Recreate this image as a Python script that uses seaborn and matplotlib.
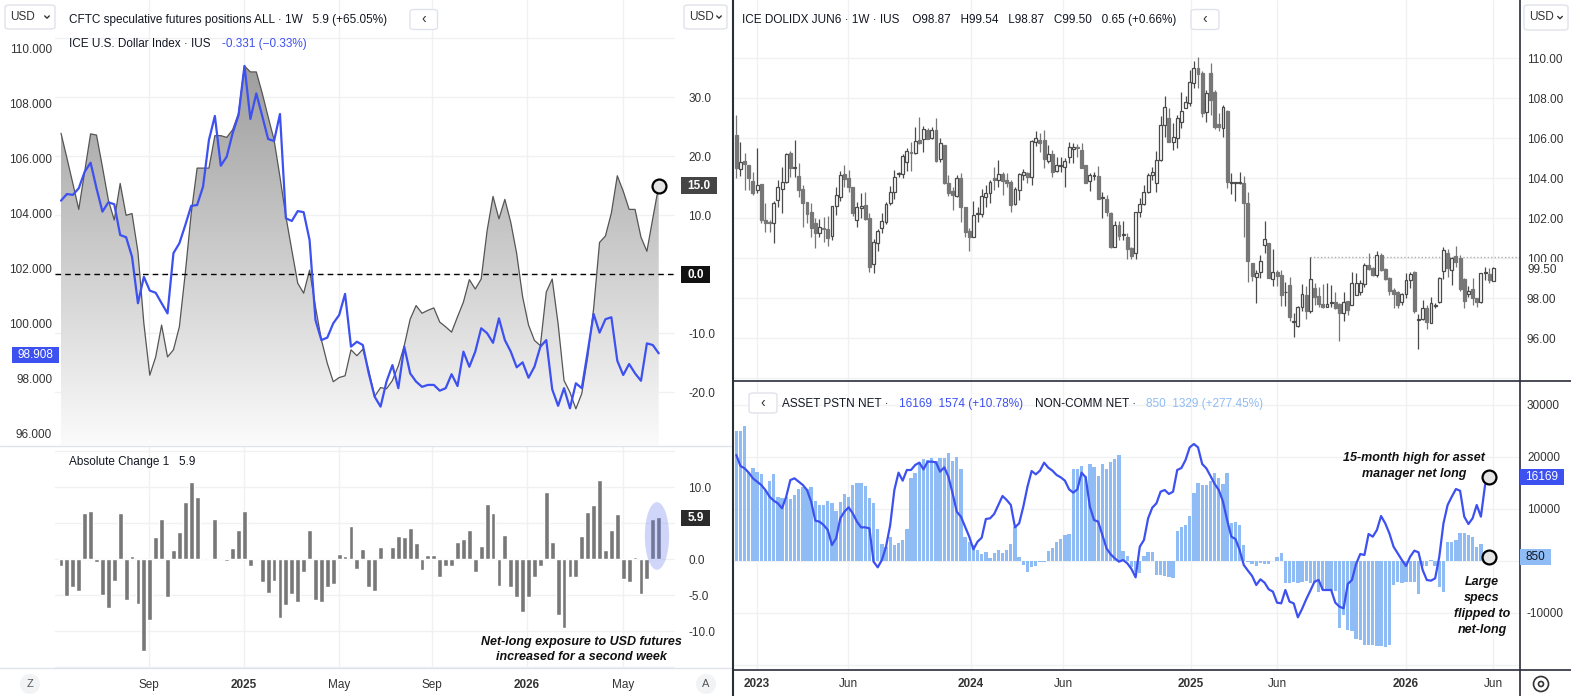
import numpy as np
import matplotlib
matplotlib.use("Agg")
import matplotlib.pyplot as plt
import seaborn as sns
from matplotlib.patches import Polygon, Ellipse, FancyBboxPatch, Rectangle
from matplotlib.colors import LinearSegmentedColormap
from matplotlib.lines import Line2D

# ---------------- left panel: CFTC speculative net (k contracts) and ICE dollar index, weekly
cftc_net = [
    23.9, 19.7, 15.4, 11.0, 17.4, 23.8, 23.6, 18.2, 12.6, 9.2,
    15.4, 10.0, 10.3, 3.8, -8.3, -17.1, -14.0, -8.6, -14.0, -12.8,
    -8.9, 0.2, 10.3, 18.0, 18.0, 18.0, 23.5, 23.5, 23.2, 24.5,
    27.3, 35.3, 34.3, 34.3, 30.7, 26.7, 22.8, 16.5, 9.8, 4.1,
    -1.5, -3.2, 0.7, -5.5, -11.1, -15.1, -18.2, -17.5, -17.2, -12.8,
    -13.8, -12.7, -16.3, -20.7, -19.2, -19.4, -18.0, -15.5, -12.1, -7.6,
    -5.3, -6.6, -6.1, -5.7, -8.1, -8.9, -9.8, -7.2, -4.7, -0.9,
    -2.5, -0.8, 7.4, 13.2, 9.4, 12.7, 8.8, 3.5, -3.8, -8.6,
    -11.2, -12.1, -3.0, -0.8, -8.4, -18.0, -20.0, -22.8, -20.2, -14.0,
    -5.8, 5.4, 6.5, 10.4, 16.7, 14.1, 11.0, 11.0, 6.3, 3.9,
    9.5, 15.0,
]
usd_index = [
    104.46, 104.70, 104.67, 104.91, 105.51, 105.84, 104.91, 104.06, 104.40, 104.33,
    103.21, 103.13, 102.42, 100.73, 101.69, 101.19, 101.11, 100.73, 100.36, 102.55,
    102.91, 103.57, 104.27, 104.30, 104.97, 106.67, 107.54, 105.73, 106.06, 106.91,
    107.57, 109.36, 107.43, 108.36, 107.54, 106.70, 106.63, 107.61, 103.82, 103.72,
    104.08, 104.04, 103.03, 100.12, 99.39, 99.48, 100.00, 100.30, 101.07, 99.15,
    99.33, 99.21, 98.18, 97.33, 96.97, 97.88, 98.48, 97.64, 99.15, 98.18,
    97.88, 97.69, 97.76, 97.76, 97.55, 97.64, 98.15, 97.72, 98.97, 98.42,
    98.97, 99.82, 99.64, 99.29, 100.18, 99.39, 98.97, 98.40, 98.58, 98.02,
    98.42, 99.15, 99.39, 97.60, 97.00, 97.64, 96.91, 97.82, 97.64, 98.97,
    100.34, 99.66, 100.15, 100.22, 98.64, 98.12, 98.52, 98.18, 97.91, 99.27,
    99.21, 98.908,
]
weekly_change = [
    -1.0, -5.1, -3.8, -4.35, 6.4, 6.7, -0.4, -4.9, -6.7, -3.0,
    6.4, -5.6, 0.5, -6.2, -12.8, -8.4, 3.1, 5.6, -5.3, 1.3,
    3.8, 8.0, 10.7, 8.7, 0.05, 0.2, 5.6, 0.05, -0.3, 1.6,
    4.1, 6.7, -0.9, 0.2, -3.1, -4.7, -3.0, -8.1, -6.3, -4.8,
    -5.9, -1.7, 4.1, -5.7, -5.9, -3.8, -3.5, 0.75, 0.45, 4.6,
    -1.3, 1.45, -3.8, -4.35, 1.7, 0.15, 1.7, 3.2, 3.1, 4.35,
    2.3, -1.45, 0.6, 0.6, -2.5, -0.9, -0.9, 2.4, 2.8, 4.1,
    -1.7, 1.85, 7.7, 6.4, -3.65, 3.4, -3.9, -5.3, -7.3, -5.2,
    -2.5, -0.9, 9.35, 2.4, -7.8, -9.5, -2.5, -2.4, 3.2, 6.6,
    7.5, 11.0, 1.3, 4.1, 6.3, -2.8, -3.1, 0.3, -4.8, -2.7,
    5.6, 5.9,
]
left_tick_pos = [14.87, 30.92, 46.98, 62.69, 78.74, 94.97]
left_tick_labels = ["Sep", "2025", "May", "Sep", "2026", "May"]

# ---------------- right panel: ICE DOLIDX weekly candles + COT positioning
dx_open = [
    106.17, 104.45, 104.87, 104.67, 103.87, 103.42, 103.72, 101.92, 101.78, 101.75,
    102.90, 103.45, 103.83, 105.25, 104.50, 104.10, 103.45, 102.80, 102.30, 101.75,
    101.28, 101.50, 101.45, 101.10, 102.60, 103.05, 104.22, 104.03, 103.58, 101.92,
    102.53, 102.67, 102.00, 99.70, 100.75, 101.50, 101.83, 102.75, 103.30, 104.22,
    104.20, 104.83, 105.30, 105.28, 105.92, 105.97, 106.42, 106.00, 106.42, 104.95,
    105.67, 103.75, 103.37, 103.12, 104.00, 102.55, 101.38, 101.08, 102.20, 102.20,
    103.05, 103.28, 104.00, 103.92, 104.20, 103.92, 103.82, 102.72, 103.42, 104.17,
    104.25, 104.08, 105.83, 105.92, 105.92, 104.88, 105.20, 104.38, 104.63, 104.58,
    105.05, 105.45, 105.55, 105.42, 104.67, 103.88, 104.12, 104.12, 103.00, 102.97,
    102.28, 100.58, 101.67, 101.17, 101.08, 100.50, 100.25, 102.33, 102.70, 103.33,
    104.17, 103.78, 104.92, 106.67, 107.00, 105.83, 106.00, 106.83, 107.53, 107.78,
    108.78, 109.50, 109.28, 107.33, 109.28, 108.30, 106.72, 106.50, 107.37, 103.75,
    103.75, 103.78, 103.75, 102.75, 99.75, 99.05, 99.33, 100.67, 100.75, 98.95,
    99.30, 99.15, 98.30, 98.67, 96.83, 96.62, 97.58, 98.17, 97.38, 98.50,
    98.12, 97.70, 97.58, 97.75, 97.83, 97.70, 97.28, 97.88, 97.67, 98.17,
    98.33, 98.72, 99.67, 99.50, 99.17, 100.17, 99.45, 99.00, 98.42, 98.30,
    97.80, 98.22, 98.92, 99.30, 96.92, 96.95, 97.50, 96.78, 97.63, 97.83,
    99.38, 100.28, 99.42, 100.12, 100.00, 98.97, 98.22, 98.45, 98.00, 97.83,
    99.25, 99.20, 98.87,
]
dx_high = [
    107.17, 105.80, 105.28, 104.67, 104.33, 105.50, 103.72, 102.75, 101.92, 102.87,
    103.92, 104.58, 105.28, 105.37, 105.92, 104.75, 103.67, 102.83, 102.75, 102.00,
    101.97, 102.05, 102.13, 102.63, 103.58, 104.38, 104.67, 104.42, 103.58, 102.80,
    103.25, 103.30, 102.25, 100.95, 101.45, 102.25, 102.83, 103.63, 104.42, 104.33,
    105.20, 105.50, 105.83, 106.55, 107.05, 106.62, 106.53, 106.55, 107.00, 106.00,
    105.67, 104.17, 103.58, 104.17, 104.28, 102.58, 101.50, 102.87, 102.58, 103.45,
    103.67, 103.92, 104.55, 104.92, 104.33, 104.25, 103.92, 103.58, 104.28, 104.45,
    104.33, 105.92, 106.38, 106.25, 106.42, 105.67, 105.42, 105.08, 105.08, 105.00,
    105.83, 105.78, 105.72, 105.75, 104.67, 104.28, 104.33, 104.62, 103.33, 103.17,
    102.33, 101.87, 101.87, 101.87, 101.25, 100.55, 102.33, 103.03, 103.67, 104.25,
    104.58, 105.37, 107.12, 108.12, 107.50, 106.75, 107.17, 108.33, 108.12, 109.42,
    109.88, 110.05, 109.37, 108.42, 109.75, 108.42, 107.28, 107.67, 107.42, 104.25,
    103.83, 104.33, 104.12, 103.33, 99.75, 99.42, 100.17, 101.87, 100.78, 100.45,
    99.42, 99.42, 98.83, 99.05, 97.25, 97.62, 98.72, 98.62, 100.05, 98.78,
    98.55, 98.72, 98.75, 98.67, 98.33, 97.75, 98.30, 97.88, 99.33, 99.25,
    98.92, 99.75, 100.28, 99.58, 100.38, 100.25, 99.53, 99.05, 98.50, 98.38,
    98.28, 99.25, 99.30, 99.37, 97.22, 97.92, 97.67, 98.05, 97.78, 99.05,
    100.58, 100.45, 100.08, 100.62, 100.17, 99.00, 98.62, 99.00, 98.00, 99.28,
    99.58, 99.50, 99.54,
]
dx_low = [
    104.00, 104.13, 103.42, 103.42, 103.17, 103.28, 101.78, 101.33, 101.33, 100.75,
    102.58, 102.28, 103.75, 104.08, 104.08, 103.08, 101.58, 101.75, 101.08, 100.50,
    101.08, 100.83, 100.62, 100.92, 102.15, 102.88, 103.58, 103.33, 102.12, 101.58,
    102.00, 101.92, 99.33, 99.28, 100.38, 101.28, 101.72, 102.67, 102.95, 104.08,
    104.03, 104.38, 104.38, 105.22, 105.72, 105.33, 105.97, 105.95, 104.83, 104.83,
    103.72, 103.12, 102.42, 103.08, 101.83, 101.08, 100.38, 101.08, 101.83, 102.08,
    102.55, 102.78, 103.42, 103.58, 103.17, 103.55, 102.33, 102.65, 102.92, 103.92,
    103.75, 103.67, 105.62, 105.33, 104.50, 104.78, 104.05, 104.33, 104.33, 103.55,
    104.78, 104.78, 105.08, 104.50, 103.75, 103.38, 103.92, 102.97, 102.03, 102.12,
    100.50, 100.55, 100.92, 100.92, 99.95, 99.95, 99.95, 102.08, 102.67, 103.28,
    103.90, 103.33, 104.88, 106.08, 105.83, 105.42, 105.50, 106.50, 107.50, 107.62,
    108.50, 108.50, 107.08, 106.83, 107.17, 106.45, 106.38, 106.08, 103.50, 103.22,
    102.88, 103.72, 101.05, 98.83, 98.88, 97.75, 99.00, 100.25, 99.00, 98.62,
    98.62, 97.63, 97.63, 96.88, 96.05, 96.55, 97.38, 96.95, 97.25, 97.67,
    97.55, 97.50, 97.55, 97.58, 97.45, 95.88, 96.88, 97.17, 97.67, 98.17,
    98.17, 98.55, 99.42, 99.12, 99.08, 99.38, 98.92, 98.17, 97.53, 97.50,
    97.67, 98.00, 98.50, 97.28, 95.45, 96.92, 96.45, 96.75, 97.50, 97.75,
    98.95, 99.05, 98.67, 99.55, 98.38, 97.50, 98.05, 97.67, 97.58, 97.78,
    98.92, 98.75, 98.87,
]
dx_close = [
    104.50, 104.80, 104.70, 104.03, 103.28, 103.67, 101.92, 101.78, 101.75, 102.75,
    103.58, 103.80, 105.22, 104.50, 104.55, 103.40, 102.78, 102.20, 101.53, 101.25,
    101.55, 101.45, 101.03, 102.60, 103.17, 104.17, 103.95, 103.55, 102.28, 102.55,
    102.62, 101.95, 99.58, 100.83, 101.38, 101.87, 102.72, 103.30, 104.05, 104.25,
    105.12, 105.37, 105.28, 105.87, 105.75, 106.45, 105.97, 106.42, 104.88, 105.75,
    103.75, 103.28, 103.17, 104.00, 102.55, 101.33, 101.05, 102.17, 102.22, 103.12,
    103.28, 103.83, 103.92, 104.20, 103.88, 103.75, 102.67, 103.47, 104.20, 104.30,
    104.08, 105.87, 106.00, 105.78, 104.95, 105.20, 104.33, 104.65, 104.63, 104.87,
    105.55, 105.58, 105.53, 104.53, 103.78, 104.17, 104.12, 102.97, 103.00, 102.30,
    100.55, 101.67, 101.12, 101.17, 100.45, 100.12, 102.30, 102.72, 103.33, 104.17,
    104.33, 104.92, 106.67, 107.58, 105.83, 106.05, 107.00, 107.37, 107.83, 108.80,
    109.50, 109.20, 107.25, 108.25, 107.92, 106.55, 106.55, 107.58, 103.83, 103.75,
    103.75, 103.78, 102.78, 99.88, 99.12, 99.25, 99.87, 100.95, 99.00, 99.30,
    99.13, 98.17, 98.30, 97.05, 96.83, 97.58, 98.20, 97.38, 98.95, 98.05,
    97.72, 97.55, 97.72, 97.75, 97.50, 97.28, 97.83, 97.42, 98.75, 98.78,
    98.75, 99.67, 99.45, 99.17, 100.17, 99.42, 98.97, 98.38, 98.22, 97.67,
    98.22, 98.92, 99.20, 97.38, 96.92, 97.50, 96.83, 97.75, 97.63, 99.00,
    100.42, 99.50, 100.00, 99.83, 98.45, 97.88, 98.38, 98.00, 97.80, 99.25,
    99.25, 98.92, 99.50,
]
asset_net = [
    20384, 18269, 17820, 16987, 15897, 15256, 14615, 13653, 12371, 11602,
    11089, 10128, 12371, 15576, 15897, 15256, 14615, 13653, 11410, 7756,
    7564, 6923, 5961, 3077, 4359, 8205, 9487, 10320, 9166, 7564,
    6474, 6474, 6282, -128, -1218, 192, 2756, 6923, 13653, 16987,
    15448, 17499, 17499, 18461, 18910, 17628, 19102, 19102, 18974, 17179,
    18012, 16217, 13012, 9487, 8525, 6602, 4679, 2244, 3718, 4487,
    8077, 8205, 9038, 10769, 12500, 11730, 10769, 6474, 7243, 10448,
    14294, 17307, 16666, 17371, 18910, 17948, 17371, 16538, 16089, 15448,
    13782, 13141, 13782, 16987, 16089, 10448, 7884, 7564, 5000, 2436,
    1282, 513, -128, 192, -449, -1538, -3141, 2756, 4038, 8205,
    10256, 11089, 13333, 13653, 12884, 13333, 17499, 17884, 19422, 21858,
    22499, 21858, 18653, 17820, 16346, 14807, 13653, 11410, 7884, 4679,
    4231, 2115, -769, -1859, -2885, -4615, -3526, -4167, -5449, -5897,
    -8013, -8141, -5577, -7820, -8141, -10833, -9230, -7372, -5705, -3974,
    -3654, -5577, -5577, -5577, -8013, -8782, -9102, -4423, -3654, -577,
    1346, 1154, 5192, 4679, 5961, 8654, 7243, 5320, 2756, 1474,
    192, -962, 833, 1987, 1667, -1731, -3654, -3782, -3333, 833,
    7243, 10769, 12371, 13846, 13500, 8525, 7115, 8205, 10769, 8525,
    14595, 16169,
]
noncomm_net = [
    25060, 25060, 26030, 17180, 17820, 17180, 16730, 13650, 15450, 16730,
    12370, 12180, 12370, 11920, 12690, 13850, 14290, 13850, 14290, 11600,
    10770, 10770, 11540, 11220, 9680, 11350, 12880, 12370, 14610, 15060,
    15060, 14420, 12050, 11090, 6090, 3270, 2760, 4680, 3080, 3400,
    4040, 6090, 15900, 16990, 19100, 19550, 19420, 19740, 19290, 19740,
    19810, 20700, 19290, 20060, 17690, 4680, 3720, 3080, 2120, 1350,
    1670, 510, 1600, 2120, 1600, 2120, 3270, 6470, 830, -770,
    -2050, -1090, -960, -130, -190, 1920, 2500, 3720, 4230, 5000,
    5190, 17690, 17690, 18270, 16350, 18650, 18140, 16350, 18650, 17690,
    19100, 19610, 20380, 1920, 1030, -1090, -2050, -2240, 1030, 1670,
    1670, -2690, -2690, -2880, -3140, -3330, 5830, 6600, 6920, 8650,
    13010, 14940, 14610, 14610, 15380, 16990, 15900, 14740, 16990, 7370,
    7440, 6920, 3080, -260, -580, -960, -450, -580, -580, 60,
    830, 1470, -4300, -4300, -3970, -4170, -3970, -3850, -4170, -4170,
    -5900, -5580, -5580, -5700, -5700, -12950, -10380, -13270, -13400, -15060,
    -15190, -16150, -16150, -16150, -16350, -16350, -16470, -16150, -4620, -3970,
    -4170, -3970, -3970, -4100, -6350, -900, -900, 190, -900, -4940,
    -5900, 3720, 3720, 4040, 5450, 5320, 5000, 4680, 2630, 3270,
    -479, 850,
]
right_tick_pos = [4.98, 26.86, 56.43, 78.55, 109.33, 130.0, 161.0, 181.9]
right_tick_labels = ["2023", "Jun", "2024", "Jun", "2025", "Jun", "2026", "Jun"]

BLUE = "#3d50f0"
LIGHT_BLUE = "#8fbcf5"
TXT = "#131722"
GRID = "#f0f1f3"
LINE = "#e0e3eb"

W, H = 1571, 696
sns.set_theme(style="white")
plt.rcParams["font.family"] = ["Liberation Sans", "DejaVu Sans"]
plt.rcParams["font.size"] = 8.5
fig = plt.figure(figsize=(W / 100, H / 100), dpi=100)


def add_ax(x0, y0, x1, y1):
    ax = fig.add_axes([x0 / W, 1 - y1 / H, (x1 - x0) / W, (y1 - y0) / H])
    return ax


def ftext(x, y, s, **kw):
    kw.setdefault("va", "center")
    kw.setdefault("color", TXT)
    kw.setdefault("fontsize", 8.5)
    return fig.text(x / W, 1 - y / H, s, **kw)


def fbox(x0, y0, x1, y1, fc, ec="none", lw=1.0, rounded=False, z=3):
    if rounded:
        p = FancyBboxPatch((x0 / W, 1 - y1 / H), (x1 - x0) / W, (y1 - y0) / H,
                           boxstyle="round,pad=0,rounding_size=0.003",
                           transform=fig.transFigure, fc=fc, ec=ec, lw=lw, zorder=z)
    else:
        p = Rectangle((x0 / W, 1 - y1 / H), (x1 - x0) / W, (y1 - y0) / H,
                      transform=fig.transFigure, fc=fc, ec=ec, lw=lw, zorder=z)
    fig.add_artist(p)


def label_box(x0, y0, x1, y1, s, fc, tc="white", bold=True):
    fbox(x0, y0, x1, y1, fc)
    ftext((x0 + x1) / 2, (y0 + y1) / 2 + 0.5, s, ha="center", color=tc,
          fontweight="bold" if bold else "normal", fontsize=8.5, zorder=4)


def fline(xs, ys, **kw):
    fig.add_artist(Line2D([x / W for x in xs], [1 - y / H for y in ys],
                          transform=fig.transFigure, **kw))


def button(x0, y0, x1, y1, s):
    fbox(x0, y0, x1, y1, "white", ec=LINE, lw=1, rounded=True)
    ftext((x0 + x1) / 2, (y0 + y1) / 2, s, ha="center", fontsize=10, color="#333", zorder=4)


def usd_button(x0, y0, x1, y1):
    fbox(x0, y0, x1, y1, "white", ec=LINE, lw=1, rounded=True)
    ftext(x0 + 5, (y0 + y1) / 2, "USD", ha="left", fontsize=8.5, color="#333", zorder=4)
    cx, cy = x1 - 8, (y0 + y1) / 2
    fline([cx - 2.3, cx, cx + 2.3], [cy - 1.1, cy + 1.2, cy - 1.1], color="#333", lw=1, zorder=5)


def round_btn(x, y, s):
    fig.add_artist(Ellipse((x / W, 1 - y / H), 20 / W, 20 / H, transform=fig.transFigure,
                           fc="#f2f3f5", ec="none"))
    ftext(x, y, s, ha="center", fontsize=8, color="#555")


def clean(ax):
    for s in ax.spines.values():
        s.set_visible(False)
    ax.tick_params(length=0, labelcolor="#333", labelsize=8.5)


# ================= LEFT TOP: CFTC net area (right scale) + USD index (left scale)
ax_c = add_ax(55, 0, 675, 445)
ax_u = ax_c.twinx()
idx = np.arange(len(cftc_net))

fade = LinearSegmentedColormap.from_list("fade", ["#fbfbfb", "#9b9b9b"])
grad = np.linspace(0, 1, 256).reshape(-1, 1)
im = ax_c.imshow(grad, extent=[idx[0], idx[-1], -29, 37], origin="lower",
                 aspect="auto", cmap=fade, zorder=1)
verts = np.column_stack([np.r_[idx, idx[-1], idx[0]],
                         np.r_[np.array(cftc_net), -29, -29]])
clip = Polygon(verts, closed=True, transform=ax_c.transData, fc="none", ec="none")
ax_c.add_patch(clip)
im.set_clip_path(clip)

sns.lineplot(x=idx, y=cftc_net, ax=ax_c, color="#555555", linewidth=0.9,
             estimator=None, legend=False, zorder=3)
ax_c.axhline(0, color="black", lw=1, ls=(0, (4, 3)), zorder=4)
ax_c.plot(idx[-1], cftc_net[-1], "o", ms=10, mfc="#e4e4e4", mec="black", mew=1.6, zorder=6)

sns.lineplot(x=idx, y=usd_index, ax=ax_u, color=BLUE, linewidth=1.6,
             estimator=None, legend=False, zorder=5)

ax_c.set_ylim(-28.93, 46.49)
ax_c.set_yticks([-20, -10, 0, 10, 20, 30, 40])
ax_c.set_yticklabels(["-20.0", "-10.0", "", "10.0", "20.0", "30.0", ""])
ax_c.yaxis.tick_right()
ax_c.set_xticks(left_tick_pos)
ax_c.set_xticklabels([])
ax_c.grid(True, color=GRID, lw=1)
ax_c.set_axisbelow(True)
clean(ax_c)
ax_c.tick_params(axis="y", pad=9.5)
ax_c.set_ylabel("")

ax_u.set_ylim(95.575, 111.756)
ax_u.set_yticks(np.arange(96, 111, 2))
ax_u.set_yticklabels([f"{v:.3f}" for v in np.arange(96, 111, 2)])
ax_u.yaxis.tick_left()
ax_u.grid(False)
clean(ax_u)
ax_u.tick_params(axis="y", pad=2)
ax_u.set_ylabel("")

# ================= LEFT BOTTOM: weekly absolute change
ax_b = add_ax(55, 447, 675, 668)
ax_b.bar(idx, weekly_change, width=0.82, color="#787878", zorder=3)
ax_b.add_patch(Ellipse((100.7, 3.24), 4.1, 9.4, fc=(0.40, 0.46, 0.94, 0.30), ec="none", zorder=4))
ax_b.set_ylim(-15.1, 15.6)
ax_b.set_yticks([-15, -10, -5, 0, 5, 10, 15])
ax_b.set_yticklabels(["", "-10.0", "-5.0", "0.0", "", "10.0", ""])
ax_b.yaxis.tick_right()
ax_b.set_xticks(left_tick_pos)
ax_b.set_xticklabels(left_tick_labels)
ax_b.grid(True, color=GRID, lw=1)
ax_b.set_axisbelow(True)
clean(ax_b)
ax_b.tick_params(axis="y", pad=9.5)
ax_b.tick_params(axis="x", pad=8)
for t in ax_b.get_xticklabels():
    if t.get_text().isdigit():
        t.set_fontweight("bold")

for a in (ax_c, ax_u, ax_b):
    a.set_xlim(-1.014, 103.75)

# ================= RIGHT TOP: candles
ax_rt = add_ax(733, 0, 1520, 380)
o = np.array(dx_open)
hi = np.array(dx_high)
lo = np.array(dx_low)
c = np.array(dx_close)
kk = np.arange(len(o))
up = c >= o
wick_col = np.where(up, "#4a4a4a", "#777777")
ax_rt.vlines(kk, lo, hi, colors=wick_col, lw=0.9, zorder=2)
ax_rt.bar(kk, np.maximum(np.abs(c - o), 0.04), bottom=np.minimum(o, c), width=0.7,
          color=np.where(up, "white", "#777777"), edgecolor=wick_col, lw=0.9, zorder=3)
ax_rt.hlines(dx_high[138], 138, 188.4, colors="#b0b0b0", linestyles=(0, (1, 1.5)), lw=1, zorder=1)
ax_rt.set_ylim(93.915, 112.915)
ax_rt.set_yticks(np.arange(94, 111, 2))
ax_rt.set_yticklabels([""] + [f"{v:.2f}" for v in np.arange(96, 111, 2)])
ax_rt.yaxis.tick_right()
ax_rt.set_xticks(right_tick_pos)
ax_rt.set_xticklabels([])
ax_rt.grid(True, color=GRID, lw=1)
ax_rt.set_axisbelow(True)
clean(ax_rt)
ax_rt.tick_params(axis="y", pad=5)

# ================= RIGHT BOTTOM: asset manager net (line) and non-commercial net (bars)
ax_rb = add_ax(733, 381, 1520, 670)
kb = np.arange(len(asset_net))
ax_rb.bar(kb, noncomm_net, width=0.8, color=LIGHT_BLUE, lw=0, zorder=2)
sns.lineplot(x=kb, y=asset_net, ax=ax_rb, color=BLUE, linewidth=1.6,
             estimator=None, legend=False, zorder=3)
ax_rb.plot(kb[-1], asset_net[-1], "o", ms=10, mfc="#e4e4e4", mec="black", mew=1.6, zorder=6)
ax_rb.plot(kb[-1], noncomm_net[-1], "o", ms=10, mfc="#e4e4e4", mec="black", mew=1.6, zorder=6)
ax_rb.set_ylim(-20962, 34615)
ax_rb.set_yticks([-20000, -10000, 0, 10000, 20000, 30000])
ax_rb.set_yticklabels(["", "-10000", "", "10000", "20000", "30000"])
ax_rb.yaxis.tick_right()
ax_rb.set_xticks(right_tick_pos)
ax_rb.set_xticklabels(right_tick_labels)
ax_rb.grid(True, color=GRID, lw=1)
ax_rb.set_axisbelow(True)
clean(ax_rb)
ax_rb.tick_params(axis="y", pad=5)
ax_rb.tick_params(axis="x", pad=6)
ax_rb.set_ylabel("")
for t in ax_rb.get_xticklabels():
    if t.get_text().isdigit():
        t.set_fontweight("bold")

for a in (ax_rt, ax_rb):
    a.set_xlim(-0.79, 188.4)

# ================= frame lines
fline([0, 731], [446, 446], color=LINE, lw=1)
fline([0, 731], [668, 668], color=LINE, lw=1)
fline([732.5, 732.5], [0, 696], color="#2a2e39", lw=1.5)
fline([1520, 1520], [0, 696], color="#2a2e39", lw=1.2)
fline([733, 1571], [380.5, 380.5], color="#2a2e39", lw=1.2)
fline([733, 1571], [670, 670], color="#2a2e39", lw=1.2)

# ================= legends, buttons, price labels
usd_button(5, 5, 55, 29)
usd_button(684, 5, 727, 29)
usd_button(1524, 5, 1568, 30)
ftext(69, 20.5, "CFTC speculative futures positions ALL · 1W   5.9 (+65.05%)")
button(410, 9.5, 437.5, 29.5, "‹")
ftext(69, 44.3, "ICE U.S. Dollar Index · IUS")
ftext(221.6, 44.3, "-0.331 (−0.33%)", color=BLUE)
ftext(69, 461.7, "Absolute Change 1   5.9")

label_box(681, 177, 717, 194, "15.0", "#454545")
label_box(681, 266, 710, 283, "0.0", "#111111")
label_box(11.5, 346.5, 59, 362.5, "98.908", BLUE, bold=False)
label_box(681, 509.5, 710, 525.5, "5.9", "#2b2b2b")

ftext(581, 642, "Net-long exposure to USD futures", ha="center",
      fontweight="bold", fontstyle="italic", fontsize=9, color="#111")
ftext(581, 657.5, "increased for a second week", ha="center",
      fontweight="bold", fontstyle="italic", fontsize=9, color="#111")

round_btn(30, 684, "Z")
round_btn(706, 684, "A")

ftext(741.8, 20.5, "ICE DOLIDX JUN6 · 1W · IUS    O98.87   H99.54   L98.87   C99.50   0.65 (+0.66%)")
button(1191, 9.5, 1219, 29.5, "‹")
fbox(1522, 262, 1568, 276, "white", z=3)
ftext(1527, 270, "99.50", color="#333", zorder=4)

button(749, 393, 777, 413, "‹")
ftext(782, 404, "ASSET PSTN NET ·")
ftext(899, 404, "16169  1574 (+10.78%)", color=BLUE)
ftext(1034.7, 404, "NON-COMM NET ·")
ftext(1145.8, 404, "850  1329 (+277.45%)", color=LIGHT_BLUE)

label_box(1520, 469, 1564, 484.5, "16169", BLUE, bold=False)
label_box(1520, 549, 1551, 564.5, "850", LIGHT_BLUE, tc="#131722", bold=False)

for line, yy in (("15-month high for asset", 457.5), ("manager net long", 474.5)):
    ftext(1414, yy, line, ha="center", fontweight="bold", fontstyle="italic", fontsize=9, color="#111")
for line, yy in (("Large", 581.7), ("specs", 597.7), ("flipped to", 613.5), ("net-long", 629.5)):
    ftext(1482, yy, line, ha="center", fontweight="bold", fontstyle="italic", fontsize=9, color="#111")

# settings gear at bottom right
fig.add_artist(Ellipse((1541 / W, 1 - 684 / H), 15 / W, 15 / H, transform=fig.transFigure,
                       fc="none", ec="#333", lw=1.2))
fig.add_artist(Ellipse((1541 / W, 1 - 684 / H), 5 / W, 5 / H, transform=fig.transFigure,
                       fc="none", ec="#333", lw=1.2))

fig.savefig("out.png", dpi=100)
